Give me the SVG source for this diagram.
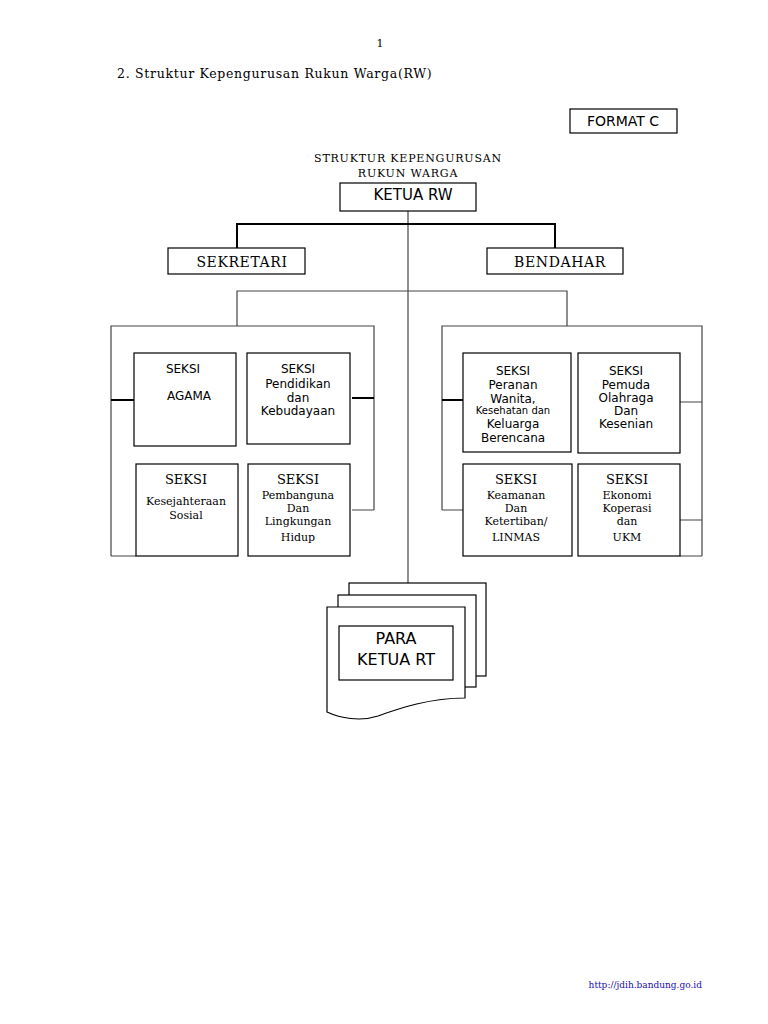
<svg xmlns="http://www.w3.org/2000/svg" width="768" height="1024" viewBox="0 0 768 1024">
<style>
.b{fill:#fff;stroke:#000;stroke-width:1.2}
.l{fill:none;stroke:#444;stroke-width:1.2}
.k{fill:none;stroke:#000;stroke-width:2}
.s{font-family:"DejaVu Sans",sans-serif;font-size:12px;text-anchor:middle}
.ss{font-family:"DejaVu Sans",sans-serif;font-size:10px;text-anchor:middle}
.r{font-family:"DejaVu Serif",serif;font-size:12px;text-anchor:middle}
.rs{font-family:"DejaVu Serif",serif;font-size:10px;text-anchor:middle}
</style>
<rect width="768" height="1024" fill="#fff"/>
<text x="380" y="47" class="r" style="font-size:11px">1</text>
<text x="117" y="78" font-family="DejaVu Serif,serif" font-size="12.5" letter-spacing="0.7">2. Struktur Kepengurusan Rukun Warga(RW)</text>
<g id="format"><rect class="b" x="570" y="109" width="107" height="24"/><text x="623" y="126" class="s" style="font-size:14px">FORMAT C</text></g>
<text x="408" y="162" class="r" style="font-size:11px;letter-spacing:0.8px">STRUKTUR KEPENGURUSAN</text>
<text x="408" y="177" class="r" style="font-size:11px;letter-spacing:0.8px">RUKUN WARGA</text>
<g id="connectors">
<path class="l" d="M408 207V583"/>
<path class="k" d="M237 248V224H555V248"/>
<path class="l" d="M237 326V291H567V326"/>
<path class="l" d="M111 556V326H374V510M111 400H134M352 398H374M352 510H374M111 556H136"/>
<path class="l" d="M442 510V326H702V556M442 510H463M680 402H702M680 520H702M680 556H702"/>
<path class="k" d="M111 400H134M352 398H374M442 400H463"/>
</g>
<g id="ketua"><rect class="b" x="340" y="183" width="136" height="28"/><text x="413" y="200" class="s" style="font-size:15px">KETUA RW</text></g>
<g id="sekretari"><rect class="b" x="168" y="248" width="137" height="26"/><text x="242" y="267" class="r" style="font-size:14px;letter-spacing:0.6px">SEKRETARI</text></g>
<g id="bendahar"><rect class="b" x="487" y="248" width="136" height="26"/><text x="560" y="267" class="r" style="font-size:14px;letter-spacing:0.6px">BENDAHAR</text></g>
<g id="agama"><rect class="b" x="134" y="353" width="102" height="93"/><text x="183" y="373" class="s">SEKSI</text><text x="189" y="400" class="s">AGAMA</text></g>
<g id="pendidikan"><rect class="b" x="247" y="353" width="103" height="91"/><text x="298" y="373" class="s">SEKSI</text><text x="298" y="388" class="s">Pendidikan</text><text x="298" y="402" class="s">dan</text><text x="298" y="415" class="s">Kebudayaan</text></g>
<g id="peranan"><rect class="b" x="463" y="353" width="108" height="99"/><text x="513" y="375" class="s">SEKSI</text><text x="513" y="389" class="s">Peranan</text><text x="513" y="403" class="s">Wanita,</text><text x="513" y="414" class="ss">Kesehatan dan</text><text x="513" y="428" class="s">Keluarga</text><text x="513" y="442" class="s">Berencana</text></g>
<g id="pemuda"><rect class="b" x="578" y="353" width="102" height="100"/><text x="626" y="375" class="s">SEKSI</text><text x="626" y="389" class="s">Pemuda</text><text x="626" y="402" class="s">Olahraga</text><text x="626" y="415" class="s">Dan</text><text x="626" y="428" class="s">Kesenian</text></g>
<g id="kesejahteraan"><rect class="b" x="136" y="464" width="102" height="92"/><text x="186" y="484" class="r" style="font-size:13px">SEKSI</text><text x="186" y="505" class="rs" style="font-size:11px">Kesejahteraan</text><text x="186" y="519" class="rs" style="font-size:11px">Sosial</text></g>
<g id="pembangunan"><rect class="b" x="248" y="464" width="102" height="92"/><text x="298" y="484" class="r" style="font-size:13px">SEKSI</text><text x="298" y="499" class="rs" style="font-size:11px">Pembanguna</text><text x="298" y="512" class="rs" style="font-size:11px">Dan</text><text x="298" y="525" class="rs" style="font-size:11px">Lingkungan</text><text x="298" y="541" class="rs" style="font-size:11px">Hidup</text></g>
<g id="keamanan"><rect class="b" x="463" y="464" width="109" height="92"/><text x="516" y="484" class="r" style="font-size:13px">SEKSI</text><text x="516" y="499" class="rs" style="font-size:11px">Keamanan</text><text x="516" y="512" class="rs" style="font-size:11px">Dan</text><text x="516" y="525" class="rs" style="font-size:11px">Ketertiban/</text><text x="516" y="541" class="rs" style="font-size:11px">LINMAS</text></g>
<g id="ekonomi"><rect class="b" x="578" y="464" width="102" height="92"/><text x="627" y="484" class="r" style="font-size:13px">SEKSI</text><text x="627" y="499" class="rs" style="font-size:11px">Ekonomi</text><text x="627" y="512" class="rs" style="font-size:11px">Koperasi</text><text x="627" y="525" class="rs" style="font-size:11px">dan</text><text x="627" y="541" class="rs" style="font-size:11px">UKM</text></g>
<g id="para-rt">
<rect class="b" x="349" y="583" width="137" height="93"/>
<rect class="b" x="338" y="595" width="138" height="92"/>
<path class="b" d="M327 607H465V698C430 698 400 708 378 716C360 722 340 718 327 712Z"/>
<rect class="b" x="339" y="626" width="114" height="54"/>
<text x="396" y="644" class="s" style="font-size:16px">PARA</text>
<text x="396" y="665" class="s" style="font-size:16px">KETUA RT</text>
</g>
<text x="702" y="988" font-family="DejaVu Serif,serif" font-size="9" fill="#1a0dab" text-anchor="end">http://jdih.bandung.go.id</text>
</svg>
